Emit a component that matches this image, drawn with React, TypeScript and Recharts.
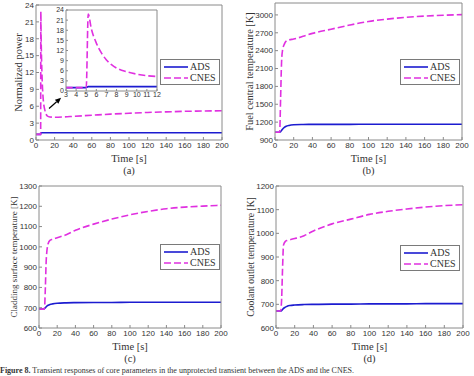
import React from 'react';
import { LineChart, Line, XAxis, YAxis, Legend, ReferenceLine, CartesianGrid } from 'recharts';

// (a) normalized power
const timePower = [0, 3, 5, 5.2, 5.5, 6, 6.5, 7, 7.5, 8, 9, 10, 12, 15, 20, 30, 40, 60, 80, 100, 120, 140, 160, 180, 200];
const powerADS = [1.0, 1.0, 1.0, 1.3, 1.3, 1.3, 1.3, 1.3, 1.3, 1.3, 1.3, 1.3, 1.3, 1.3, 1.3, 1.3, 1.3, 1.3, 1.3, 1.3, 1.3, 1.3, 1.3, 1.3, 1.3];
const powerCNES = [1.0, 1.0, 1.0, 22.8, 18.5, 14.2, 11.3, 9.2, 7.8, 6.8, 5.7, 5.0, 4.3, 4.1, 4.05, 4.1, 4.2, 4.4, 4.6, 4.75, 4.9, 5.0, 5.1, 5.15, 5.2];

// (b)-(d) temperatures
const timeTemp = [0, 5, 6, 7, 8, 10, 12, 15, 20, 30, 40, 60, 80, 100, 120, 140, 160, 180, 200];
const fuelADS = [1030, 1030, 1040, 1060, 1080, 1110, 1130, 1145, 1155, 1160, 1162, 1163, 1163, 1164, 1164, 1164, 1164, 1164, 1164];
const fuelCNES = [1030, 1030, 1600, 2200, 2400, 2510, 2560, 2580, 2595, 2640, 2690, 2760, 2830, 2890, 2930, 2960, 2980, 2995, 3005];
const cladADS = [693, 693, 695, 700, 705, 712, 716, 719, 722, 724, 725, 726, 726, 727, 727, 727, 727, 727, 727];
const cladCNES = [693, 693, 695, 800, 940, 1015, 1032, 1038, 1045, 1060, 1082, 1112, 1137, 1158, 1175, 1188, 1196, 1201, 1205];
const coolADS = [672, 672, 674, 678, 683, 688, 692, 695, 697, 699, 700, 701, 701, 702, 702, 702, 703, 703, 703];
const coolCNES = [672, 672, 720, 850, 950, 966, 970, 973, 978, 990, 1010, 1040, 1060, 1080, 1093, 1103, 1111, 1117, 1121];

const timeTicks = [0, 20, 40, 60, 80, 100, 120, 140, 160, 180, 200];
const insetTimeTicks = [3, 4, 5, 6, 7, 8, 9, 10, 11, 12];
const powerTicks = [0, 3, 6, 9, 12, 15, 18, 21, 24];
const fuelTicks = [900, 1200, 1500, 1800, 2100, 2400, 2700, 3000];
const cladTicks = [600, 700, 800, 900, 1000, 1100, 1200, 1300];
const coolTicks = [600, 700, 800, 900, 1000, 1100, 1200];

const seriesNames = ['ADS', 'CNES'];
const seriesColors = ['#1c1cd0', '#e030e0'];
const seriesDash = ['', '7 3'];

// arrow pointing at the inset (data coords of panel a)
const arrowTail = [14, 5.6];
const arrowHead = [27, 7.5];

const serif = '"Liberation Serif", "Times New Roman", serif';
const sans = '"Liberation Sans", Arial, sans-serif';
const boxColor = '#8a8a8a';
const textColor = '#333';

const toRows = (time: number[], ads: number[], cnes: number[]) =>
  time.map((t, i) => ({ t, ads: ads[i], cnes: cnes[i] }));

const LegendBox = () => (
  <div
    style={{
      border: '1px solid #7a7a7a',
      background: '#fff',
      padding: '1px 3px',
      fontFamily: serif,
      fontSize: 10,
      color: textColor,
      lineHeight: '11px',
    }}
  >
    {seriesNames.map((n, i) => (
      <div key={n} style={{ display: 'flex', alignItems: 'center', height: 11 }}>
        <svg width={24} height={6}>
          <line x1={0} y1={3} x2={24} y2={3} stroke={seriesColors[i]} strokeWidth={1.6} strokeDasharray={seriesDash[i] || undefined} />
        </svg>
        <span style={{ marginLeft: 2 }}>{n}</span>
      </div>
    ))}
  </div>
);

const yLabel = (text: string, size: number, cx: number) => (props: any) => {
  const vb = props.viewBox;
  const x = vb.x + cx;
  const y = vb.y + vb.height / 2;
  return (
    <text x={x} y={y} transform={`rotate(-90, ${x}, ${y})`} textAnchor="middle" dominantBaseline="central"
      fontFamily={serif} fontSize={size} fill={textColor}>
      {text}
    </text>
  );
};

const ArrowShape = (p: any) => {
  const { x1, y1, x2, y2 } = p;
  const ang = Math.atan2(y2 - y1, x2 - x1);
  const L = 6;
  const W = 2.6;
  const bx = x2 - L * Math.cos(ang);
  const by = y2 - L * Math.sin(ang);
  const pts = `${x2},${y2} ${bx - W * Math.sin(ang)},${by + W * Math.cos(ang)} ${bx + W * Math.sin(ang)},${by - W * Math.cos(ang)}`;
  return (
    <g>
      <line x1={x1} y1={y1} x2={bx} y2={by} stroke="#000" strokeWidth={1.2} />
      <polygon points={pts} fill="#000" />
    </g>
  );
};

interface PanelProps {
  left: number;
  top: number;
  width: number;
  height: number;
  margin: { top: number; right: number; bottom: number; left: number };
  yWidth: number;
  time: number[];
  ads: number[];
  cnes: number[];
  yDomain: [number, number];
  yTicks: number[];
  label: string;
  labelSize: number;
  labelX: number;
  legendAt: { left: number; top: number };
  tag: string;
  children?: React.ReactNode;
}

const Panel = (p: PanelProps) => {
  const data = toRows(p.time, p.ads, p.cnes);
  const plotBottom = p.height - p.margin.bottom - 22;
  const plotLeft = p.margin.left + p.yWidth;
  const plotWidth = p.width - p.margin.right - 1 - plotLeft;
  return (
    <div style={{ position: 'absolute', left: p.left, top: p.top, width: p.width, height: p.height }}>
      <LineChart width={p.width} height={p.height} data={data} margin={p.margin}>
        <XAxis dataKey="t" type="number" domain={[0, 200]} ticks={timeTicks} interval={0} height={22}
          tickSize={-3} tickMargin={5} stroke={boxColor}
          tick={{ fontSize: 8, fill: textColor, fontFamily: sans }}
          label={{ value: 'Time [s]', position: 'insideBottom', offset: 0, fontSize: 10.5, fill: textColor, fontFamily: serif }} />
        <XAxis xAxisId="top" dataKey="t" orientation="top" type="number" domain={[0, 200]} ticks={timeTicks}
          height={1} tick={false} tickSize={-3} stroke={boxColor} allowDataOverflow />
        <YAxis type="number" domain={p.yDomain} ticks={p.yTicks} interval={0} width={p.yWidth}
          tickSize={-3} tickMargin={5} stroke={boxColor}
          tick={{ fontSize: 8, fill: textColor, fontFamily: sans }}
          label={{ content: yLabel(p.label, p.labelSize, p.labelX) }} />
        <YAxis yAxisId="right" orientation="right" type="number" domain={p.yDomain} ticks={p.yTicks}
          width={1} tick={false} tickSize={-3} stroke={boxColor} allowDataOverflow />
        <Legend layout="horizontal" verticalAlign="middle" align="center"
          wrapperStyle={{ left: p.legendAt.left, top: p.legendAt.top, width: 'auto' }} content={LegendBox} />
        <Line type="monotone" dataKey="ads" name={seriesNames[0]} stroke={seriesColors[0]} strokeWidth={1.6}
          dot={false} isAnimationActive={false} />
        <Line type="monotone" dataKey="cnes" name={seriesNames[1]} stroke={seriesColors[1]} strokeWidth={1.6}
          strokeDasharray={seriesDash[1]} dot={false} isAnimationActive={false} />
        {p.children}
      </LineChart>
      <div style={{ position: 'absolute', left: plotLeft, width: plotWidth, top: plotBottom + 25, textAlign: 'center',
        fontFamily: serif, fontSize: 10.5, color: textColor, lineHeight: '12px' }}>
        {p.tag}
      </div>
    </div>
  );
};

const Inset = () => {
  const data = toRows(timePower, powerADS, powerCNES);
  const tick = { fontSize: 7, fill: textColor, fontFamily: sans };
  return (
    <div style={{ position: 'absolute', left: 48, top: 6, width: 114, height: 97 }}>
      <LineChart width={114} height={97} data={data} margin={{ top: 3, right: 4, bottom: 0, left: 0 }}>
        <CartesianGrid horizontal={false} vertical={false} fill="#fff" />
        <XAxis dataKey="t" type="number" domain={[3, 12]} ticks={insetTimeTicks} interval={0} height={12}
          tickSize={-2} tickMargin={3} stroke={boxColor} tick={tick} allowDataOverflow />
        <XAxis xAxisId="top" dataKey="t" orientation="top" type="number" domain={[3, 12]} ticks={insetTimeTicks}
          height={1} tick={false} tickSize={-2} stroke={boxColor} allowDataOverflow />
        <YAxis type="number" domain={[0, 24]} ticks={powerTicks} interval={0} width={18}
          tickSize={-2} tickMargin={4} stroke={boxColor} tick={tick} allowDataOverflow />
        <YAxis yAxisId="right" orientation="right" type="number" domain={[0, 24]} ticks={powerTicks}
          width={1} tick={false} tickSize={-2} stroke={boxColor} allowDataOverflow />
        <Line type="monotone" dataKey="ads" stroke={seriesColors[0]} strokeWidth={1.6} dot={false} isAnimationActive={false} />
        <Line type="monotone" dataKey="cnes" stroke={seriesColors[1]} strokeWidth={1.6} strokeDasharray={seriesDash[1]}
          dot={false} isAnimationActive={false} />
      </LineChart>
    </div>
  );
};

export default function App() {
  return (
    <div style={{ position: 'absolute', left: 0, top: 0, width: 474, height: 376, overflow: 'hidden', background: '#fff' }}>
      <Panel left={0} top={0} width={237} height={186} margin={{ top: 4, right: 14, bottom: 24, left: 0 }} yWidth={36}
        time={timePower} ads={powerADS} cnes={powerCNES} yDomain={[0, 24]} yTicks={powerTicks}
        label="Normalized power" labelSize={10.5} labelX={18} legendAt={{ left: 160, top: 59 }} tag="(a)">
        <ReferenceLine segment={[{ x: arrowTail[0], y: arrowTail[1] }, { x: arrowHead[0], y: arrowHead[1] }]}
          shape={ArrowShape} ifOverflow="visible" />
      </Panel>
      <Panel left={237} top={0} width={237} height={186} margin={{ top: 2, right: 11, bottom: 24, left: 0 }} yWidth={38}
        time={timeTemp} ads={fuelADS} cnes={fuelCNES} yDomain={[900, 3200]} yTicks={fuelTicks}
        label="Fuel central temperature [K]" labelSize={10.4} labelX={12.5} legendAt={{ left: 163, top: 59 }} tag="(b)" />
      <Panel left={0} top={180} width={237} height={176} margin={{ top: 5, right: 15, bottom: 6, left: 0 }} yWidth={39}
        time={timeTemp} ads={cladADS} cnes={cladCNES} yDomain={[600, 1300]} yTicks={cladTicks}
        label="Cladding surface temperature [K]" labelSize={9} labelX={14} legendAt={{ left: 160, top: 64 }} tag="(c)" />
      <Panel left={237} top={180} width={237} height={176} margin={{ top: 5, right: 10, bottom: 6, left: 0 }} yWidth={39}
        time={timeTemp} ads={coolADS} cnes={coolCNES} yDomain={[600, 1200]} yTicks={coolTicks}
        label="Coolant outlet temperature [K]" labelSize={9.7} labelX={13} legendAt={{ left: 163, top: 65 }} tag="(d)" />
      <Inset />
      <div style={{ position: 'absolute', left: 0, top: 366, width: 474, whiteSpace: 'nowrap', fontFamily: serif,
        fontSize: 8, color: textColor, lineHeight: '9px' }}>
        <b>Figure 8.</b> Transient responses of core parameters in the unprotected transient between the ADS and the CNES.
      </div>
    </div>
  );
}
